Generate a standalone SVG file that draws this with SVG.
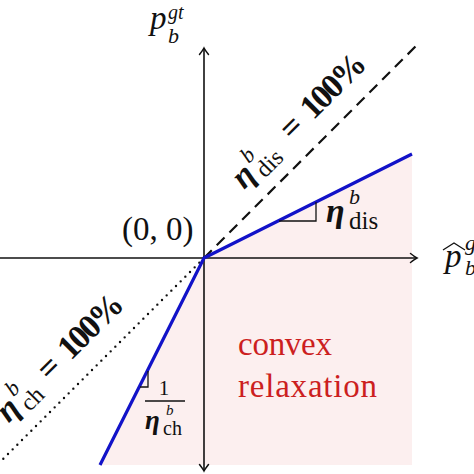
<svg xmlns="http://www.w3.org/2000/svg" width="474" height="474" viewBox="0 0 474 474">
<style>
.t{font-family:"Liberation Serif","DejaVu Serif",serif;fill:#111}
.i{font-style:italic}
.b{font-weight:bold}
.ax{stroke:#111;stroke-width:1.6;fill:none}
.mk{stroke:#111;stroke-width:1.3;fill:none}
.red{fill:#cc1f1f}
</style>
<defs>
<marker id="arr" markerWidth="12" markerHeight="12" refX="0" refY="0" viewBox="-8 -6 10 12" orient="auto" markerUnits="userSpaceOnUse">
<path d="M -6.5,-4.5 Q -2,-1 0,0 Q -2,1 -6.5,4.5" stroke="#111" stroke-width="1.5" fill="none" stroke-linecap="round"/>
</marker>
</defs>
<rect width="474" height="474" fill="#fff"/>
<g id="region">
<polygon points="204,258 412,154 412,465 100,465" fill="#fcefef"/>
</g>
<g id="connectors">
<line class="ax" x1="0" y1="258" x2="417" y2="258" marker-end="url(#arr)"/>
<line class="ax" x1="204" y1="260" x2="204" y2="48" marker-end="url(#arr)"/>
<line class="ax" x1="204" y1="256" x2="204" y2="471" marker-end="url(#arr)"/>
<line x1="204" y1="258" x2="419" y2="43" stroke="#111" stroke-width="2.2" stroke-dasharray="11 7"/>
<line x1="204" y1="258" x2="0" y2="462" stroke="#111" stroke-width="2.4" stroke-dasharray="0 6.6" stroke-linecap="round"/>
<polyline points="100,465 204,258 412,154" fill="none" stroke="#1212c8" stroke-width="3.2"/>
<polyline class="mk" points="279,221 316,221 316,202"/>
<polyline class="mk" points="148,371 148,387 140,387"/>
<line class="mk" x1="145" y1="401" x2="185" y2="401"/>
<path d="M443,250 L454,243 L465,250" fill="none" stroke="#111" stroke-width="1.3"/>
</g>
<g id="ylabel">
<text class="t i" x="150" y="29" font-size="33">p</text>
<text class="t i" x="168" y="19" font-size="20">gt</text>
<text class="t i" x="168" y="43" font-size="22">b</text>
</g>
<g id="xlabel">
<text class="t i" x="445" y="267" font-size="33">p</text>
<text class="t i" x="465" y="250" font-size="22">g</text>
<text class="t i" x="465" y="275" font-size="22">b</text>
</g>
<g id="origin">
<text class="t" x="122" y="240" font-size="33">(0, 0)</text>
</g>
<g id="dis-label" transform="translate(245.3,188.7) rotate(-45)">
<text class="t i b" x="-2" y="0" font-size="34">η</text>
<text class="t i" x="20" y="-15" font-size="22">b</text>
<text class="t" x="21" y="7" font-size="24">dis</text>
<text class="t b" x="76" y="0" font-size="34" text-anchor="middle">=</text>
<text class="t b" x="96" y="0" font-size="34" textLength="78">100%</text>
</g>
<g id="ch-label" transform="translate(9.9,422.1) rotate(-45)">
<text class="t i b" x="-2" y="0" font-size="34">η</text>
<text class="t i" x="20" y="-15" font-size="22">b</text>
<text class="t" x="21" y="7" font-size="24">ch</text>
<text class="t b" x="66" y="0" font-size="34" text-anchor="middle">=</text>
<text class="t b" x="86" y="0" font-size="34" textLength="78">100%</text>
</g>
<g id="slope-dis">
<text class="t i b" x="326" y="222" font-size="34">η</text>
<text class="t i" x="349" y="204" font-size="22">b</text>
<text class="t" x="349" y="229" font-size="25">dis</text>
</g>
<g id="slope-ch">
<text class="t" x="164" y="395" font-size="21" text-anchor="middle">1</text>
<text class="t i b" x="145" y="429" font-size="27">η</text>
<text class="t i" x="166" y="415" font-size="15">b</text>
<text class="t" x="163" y="435" font-size="20">ch</text>
</g>
<g id="convex">
<text class="t red" x="238" y="355" font-size="33" textLength="94">convex</text>
<text class="t red" x="238" y="397" font-size="33" textLength="139">relaxation</text>
</g>
</svg>
